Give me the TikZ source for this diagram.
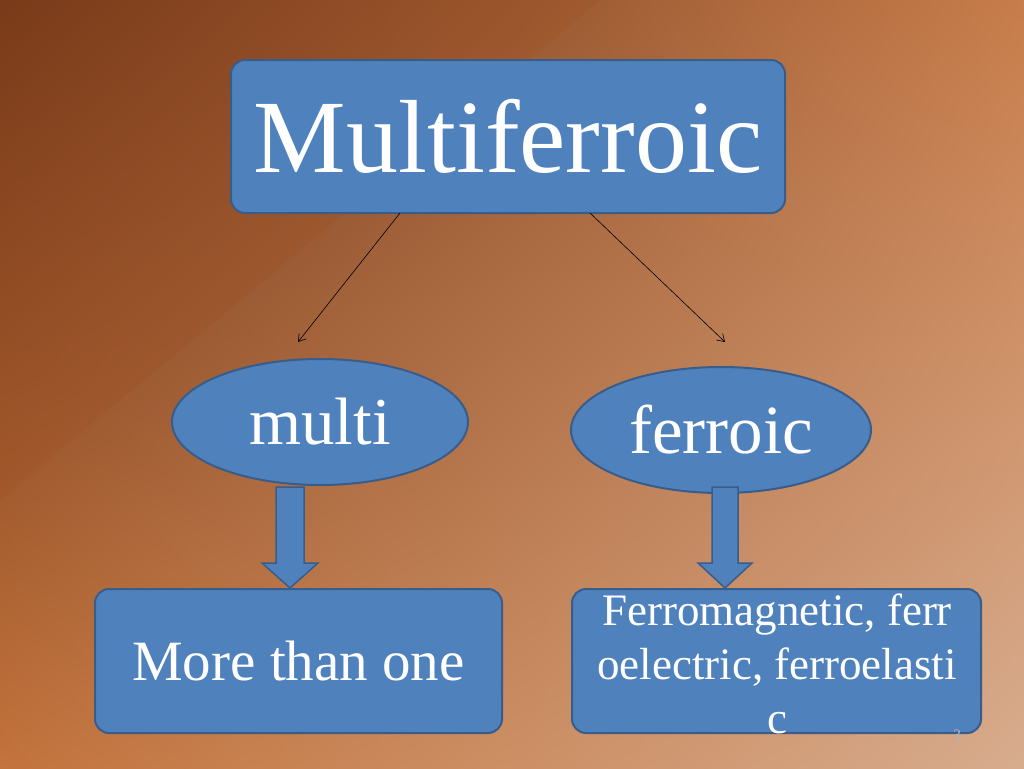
\documentclass[tikz,border=0pt]{standalone}
\usepackage{fontspec}
\setmainfont{Liberation Serif}
\usetikzlibrary{shapes.geometric,arrows.meta,shadings}
\definecolor{boxblue}{HTML}{4F81BD}
\definecolor{boxedge}{HTML}{385D8A}
\definecolor{bgul}{RGB}{105,50,22}
\definecolor{bgur}{RGB}{200,125,75}
\definecolor{bgll}{RGB}{195,115,60}
\definecolor{bglr}{RGB}{215,172,142}
\definecolor{bgmid}{RGB}{160,80,35}
\tikzset{
 boxst/.style={draw=boxedge,line width=2pt,fill=boxblue,rounded corners=14pt,text=white},
 ellst/.style={draw=boxedge,line width=2pt,fill=boxblue,ellipse,text=white},
 blockarrow/.style={draw=boxedge,line width=1.5pt,fill=boxblue},
 thin/.style={-{Straight Barb[length=7pt,width=9pt]},line width=0.6pt,black}
}
\begin{document}
\begin{tikzpicture}[x=1pt,y=-1pt]
\useasboundingbox (0,0) rectangle (1024,768);
\shade[upper left=bgul,upper right=bgur,lower left=bgll,lower right=bglr] (0,0) rectangle (1024,768);
\fill[opacity=0.3,color=bgmid] (0,0) -- (600,0) -- (0,500) -- cycle;
\node[boxst,minimum width=554pt,minimum height=153pt,font=\fontsize{104}{110}\selectfont] (top) at (508,136.5) {Multiferroic};
\node[ellst,minimum width=296pt,minimum height=126pt,inner sep=0pt,font=\fontsize{67}{72}\selectfont] (multi) at (320,422) {multi};
\node[ellst,minimum width=300pt,minimum height=126pt,inner sep=0pt,font=\fontsize{69}{74}\selectfont] (ferro) at (721,430) {ferroic};
\node[boxst,minimum width=407pt,minimum height=144pt,font=\fontsize{57}{62}\selectfont] (more) at (298.5,661) {More than one};
\node[boxst,minimum width=409pt,minimum height=144pt,inner sep=0pt] (fe) at (776.5,661) {};
\node[text=white,align=center,inner sep=0pt,font=\fontsize{45}{54}\selectfont] (fetext) at (777,664) {Ferromagnetic, ferr\\oelectric, ferroelasti\\c};
\coordinate (m1) at (400,213); \coordinate (m2) at (298,342);
\coordinate (f1) at (590,213); \coordinate (f2) at (725,342);
\draw[thin] (m1) -- (m2);
\draw[thin] (f1) -- (f2);
\draw[blockarrow] (276,487) -- (304,487) -- (304,563) -- (318,563) -- (290,588) -- (262,563) -- (276,563) -- cycle;
\draw[blockarrow] (712,487) -- (738,487) -- (738,563) -- (752,563) -- (725,588) -- (698,563) -- (712,563) -- cycle;
\node[text=gray!60,font=\fontsize{16}{18}\selectfont] (pg) at (957,735) {3};
\end{tikzpicture}
\end{document}
